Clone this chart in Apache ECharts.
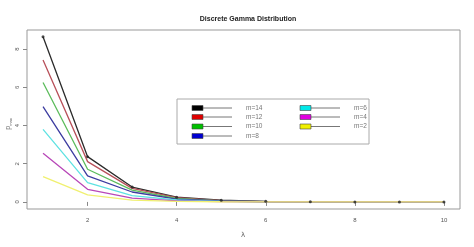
<!DOCTYPE html>
<html><head><meta charset="utf-8">
<script src="https://cdn.jsdelivr.net/npm/echarts@6/dist/echarts.min.js"></script>
<style>html,body{margin:0;padding:0;background:#fff}#c{width:474px;height:247px}</style>
</head><body><div id="c"></div>
<script>
const lambda = [1, 2, 3, 4, 5, 6, 7, 8, 9, 10];
const seriesNames = ['m=14', 'm=12', 'm=10', 'm=8', 'm=6', 'm=4', 'm=2'];
const m14 = [8.65, 2.37, 0.78, 0.25, 0.09, 0.03, 0.01, 0.0, 0.0, 0.0];
const m12 = [7.43, 2.11, 0.71, 0.22, 0.07, 0.02, 0.01, 0.0, 0.0, 0.0];
const m10 = [6.25, 1.71, 0.62, 0.18, 0.06, 0.02, 0.0, 0.0, 0.0, 0.0];
const m8  = [4.99, 1.36, 0.52, 0.15, 0.05, 0.01, 0.0, 0.0, 0.0, 0.0];
const m6  = [3.80, 1.01, 0.33, 0.10, 0.03, 0.01, 0.0, 0.0, 0.0, 0.0];
const m4  = [2.55, 0.66, 0.20, 0.06, 0.02, 0.0, 0.0, 0.0, 0.0, 0.0];
const m2  = [1.33, 0.37, 0.09, 0.03, 0.01, 0.0, 0.0, 0.0, 0.0, 0.0];
const xTicks = [2, 4, 6, 8, 10];
const yTicks = [0, 2, 4, 6, 8];

const allData = [m14, m12, m10, m8, m6, m4, m2];
const lineColors = ['#2b2b2b', '#b8505a', '#5cbc5c', '#3c3ca0', '#5ee2e2', '#b848b8', '#f0f070'];
const boxColors = ['#000000', '#e00000', '#00c000', '#0000d0', '#00e8e8', '#e000e0', '#f0f000'];

const chart = echarts.init(document.getElementById('c'), null, {renderer: 'canvas'});
const series = allData.map((d, i) => ({
  name: seriesNames[i],
  type: 'line',
  data: lambda.map((x, j) => [x, d[j]]),
  symbol: 'none',
  showSymbol: false,
  lineStyle: {color: lineColors[i], width: 1.3},
  z: 2 + i,
  animation: false
}));
series.push({
  type: 'scatter',
  data: lambda.map((x, j) => [x, m14[j]]),
  symbolSize: 3,
  itemStyle: {color: '#222'},
  z: 20,
  animation: false
});

const gfx = [];
gfx.push({type: 'rect', shape: {x: 177, y: 99, width: 192, height: 45},
  style: {fill: '#fff', stroke: '#aaa', lineWidth: 1}});
const colX = [192, 300];
const rowY = [108, 117, 126.5, 136];
seriesNames.forEach((n, i) => {
  const col = i < 4 ? 0 : 1;
  const row = i < 4 ? i : i - 4;
  const x = colX[col], y = rowY[row];
  gfx.push({type: 'line', shape: {x1: x + 10, y1: y, x2: x + 40, y2: y},
    style: {stroke: '#777', lineWidth: 1}});
  gfx.push({type: 'rect', shape: {x: x, y: y - 2.5, width: 11, height: 5},
    style: {fill: boxColors[i], stroke: '#444', lineWidth: 0.6}});
  gfx.push({type: 'text', x: x + 54, y: y, style: {text: n, fill: '#777',
    font: '6.5px Liberation Sans', verticalAlign: 'middle', align: 'left'}});
});
gfx.push({type: 'text', x: 8, y: 124, rotation: Math.PI / 2,
  style: {text: '{p|p}{s|max}', align: 'center', verticalAlign: 'middle',
    rich: {p: {fontSize: 7, fill: '#666', fontFamily: 'Liberation Sans'},
           s: {fontSize: 4, fill: '#666', fontFamily: 'Liberation Sans', padding: [5, 0, 0, 0]}}}});
gfx.push({type: 'text', x: 243, y: 235, style: {text: 'λ', align: 'center', verticalAlign: 'middle',
  fill: '#666', font: '7px DejaVu Sans'}});

chart.setOption({
  animation: false,
  backgroundColor: '#fff',
  title: {text: 'Discrete Gamma Distribution', left: 243, top: 11, textAlign: 'center',
    textStyle: {fontSize: 7, fontWeight: 'bold', color: '#222', fontFamily: 'Liberation Sans'}},
  grid: {left: 27, right: 14, top: 30, bottom: 38, show: true, borderColor: '#999', borderWidth: 1, backgroundColor: 'transparent'},
  xAxis: {type: 'value', min: 0.64, max: 10.36,
    axisLine: {show: false},
    splitLine: {show: false},
    axisTick: {show: true, length: 4, lineStyle: {color: '#888'}, customValues: xTicks},
    axisLabel: {customValues: xTicks, fontSize: 6, color: '#555', margin: 8, fontFamily: 'Liberation Sans'}},
  yAxis: {type: 'value', min: -0.37, max: 9.0,
    axisLine: {show: false},
    splitLine: {show: false},
    axisTick: {show: true, length: 4, lineStyle: {color: '#888'}, customValues: yTicks},
    axisLabel: {customValues: yTicks, fontSize: 6, color: '#555', margin: 7, rotate: 90, fontFamily: 'Liberation Sans'}},
  series: series,
  graphic: gfx
});
</script></body></html>
